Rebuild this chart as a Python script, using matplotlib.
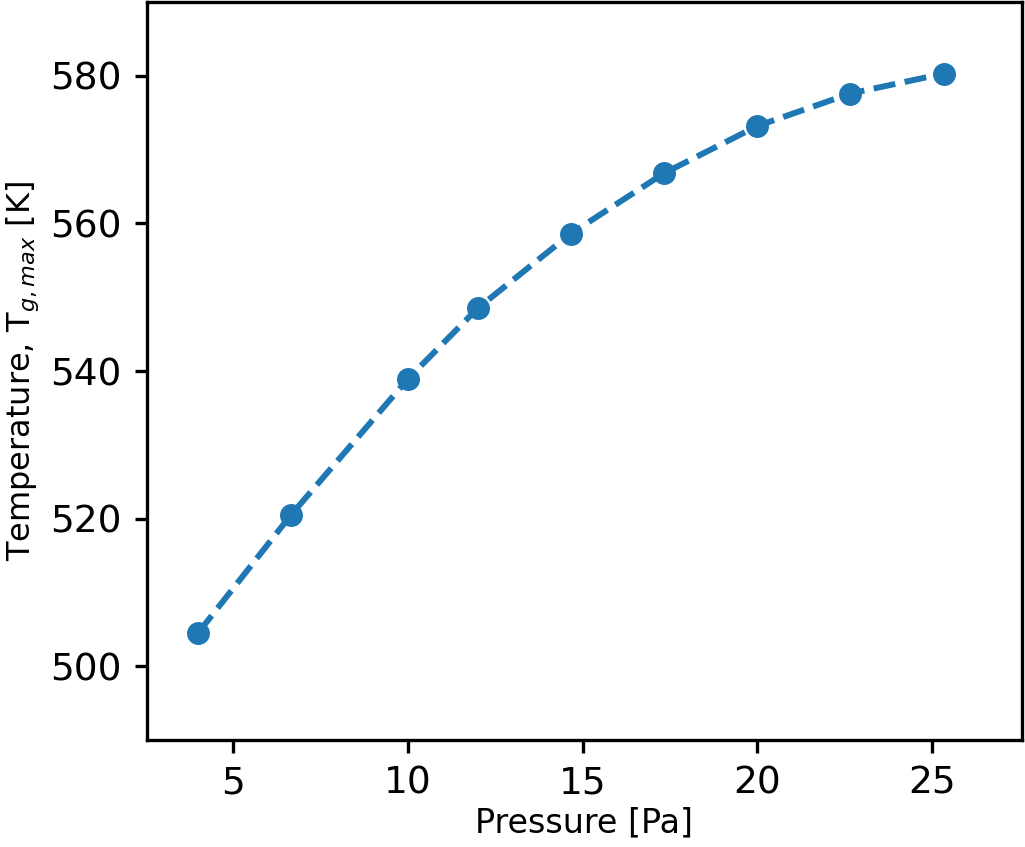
import matplotlib
matplotlib.use("Agg")
import matplotlib.pyplot as plt

# pressure (Pa) and peak gas temperature (K)
pressure = [4.0, 6.66, 10.0, 12.0, 14.66, 17.33, 20.0, 22.66, 25.33]
t_gmax = [504.5, 520.5, 538.9, 548.5, 558.6, 566.8, 573.2, 577.6, 580.3]

plt.rcParams["font.size"] = 27

fig = plt.figure(figsize=(10.25, 8.47), dpi=100)
ax = fig.add_axes([0.1434, 0.1263, 0.8536, 0.8713])
ax.plot(pressure, t_gmax, "o--", color="#1f77b4", linewidth=4.3, markersize=15.5)

ax.set_xlim(2.54, 27.57)
ax.set_ylim(490, 590)
ax.set_xticks([5, 10, 15, 20, 25])
ax.set_yticks([500, 520, 540, 560, 580])
ax.set_xlabel("Pressure [Pa]", fontsize=24, labelpad=4)
ax.set_ylabel(r"Temperature, T$_{g,max}$ [K]", fontsize=23, labelpad=7)

for s in ax.spines.values():
    s.set_linewidth(2.4)
ax.tick_params(width=2.4, length=9, pad=9)

fig.savefig("out.png", dpi=100)
